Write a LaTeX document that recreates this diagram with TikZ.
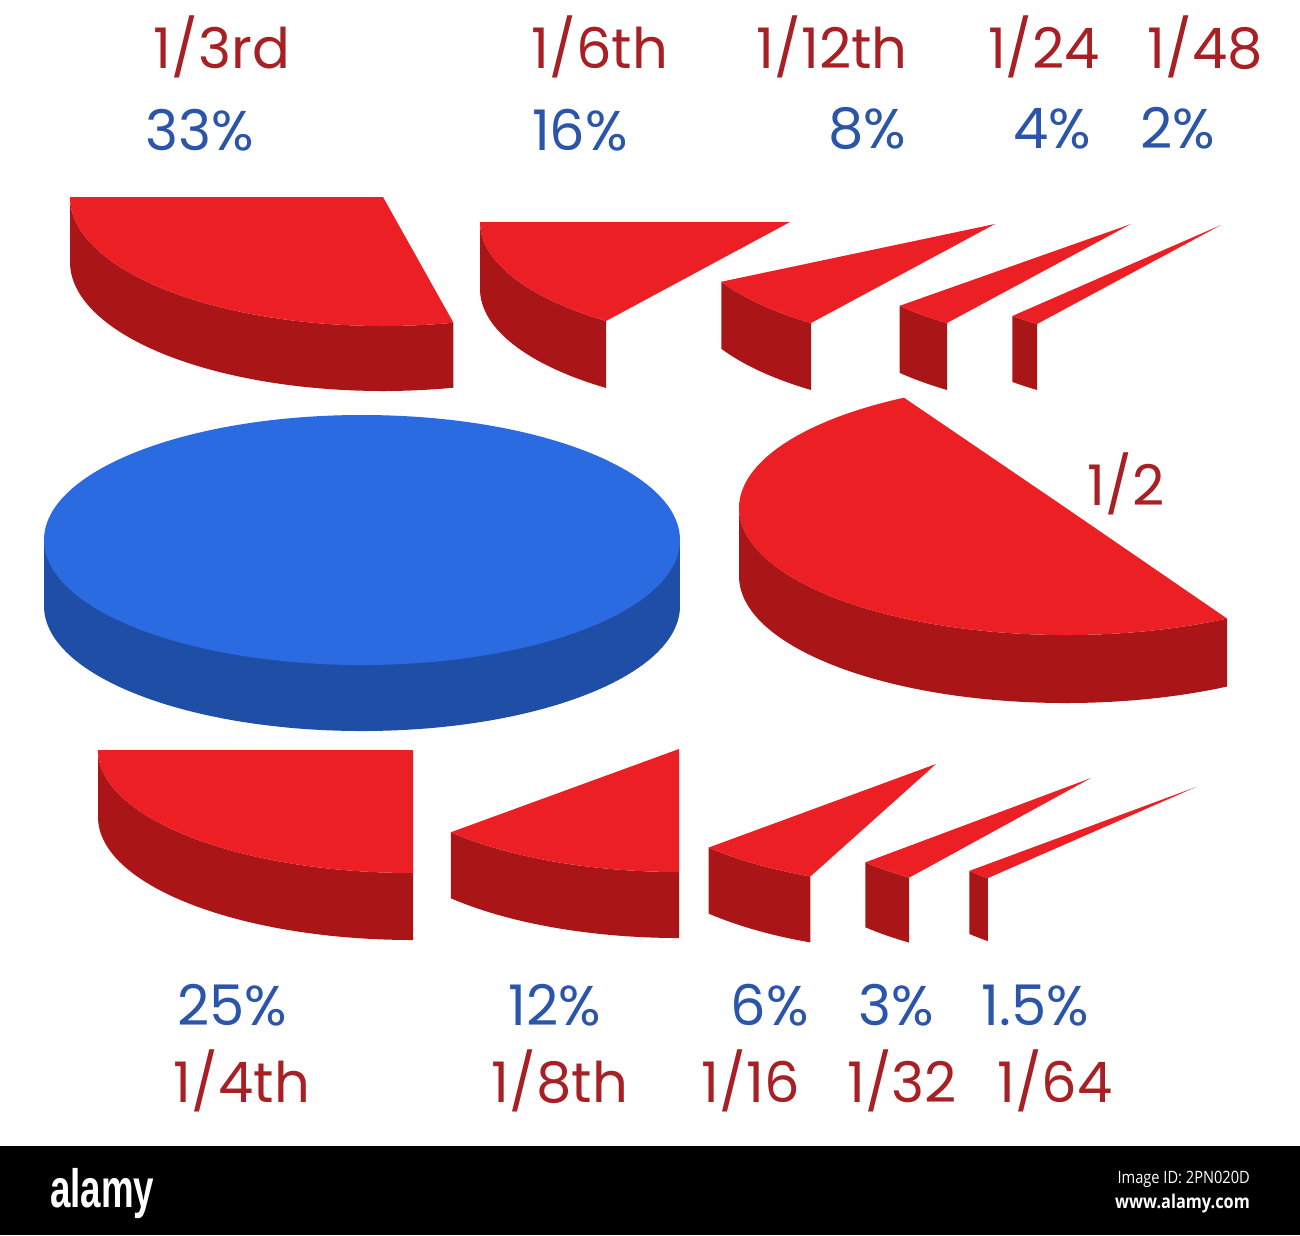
\documentclass[tikz,border=0pt]{standalone}
\usepackage{fontspec}
\setmainfont{Poppins}
\newfontfamily\bannerfont{Liberation Sans}
\newfontfamily\idfont{Open Sans}
\definecolor{redtop}{RGB}{236,31,36}
\definecolor{redside}{RGB}{170,22,24}
\definecolor{bluetop}{RGB}{42,107,226}
\definecolor{blueside}{RGB}{31,78,166}
\definecolor{redtxt}{RGB}{168,32,36}
\definecolor{bluetxt}{RGB}{42,85,168}
% cx, cy, a, b, top start, top end, side start, side end, thickness
\newcommand{\piewedge}[9]{%
  \fill[redside] (#1,#2) ++(#7:#3 and #4) arc[start angle=#7,end angle=#8,x radius=#3,y radius=#4]
    -- ++(0,#9) arc[start angle=#8,end angle=#7,x radius=#3,y radius=#4] -- cycle;
  \fill[redtop] (#1,#2) -- ++(#5:#3 and #4) arc[start angle=#5,end angle=#6,x radius=#3,y radius=#4] -- cycle;
}
\tikzset{
  lbl/.style={anchor=base,inner sep=0pt,font=\fontsize{56}{60}\selectfont},
  redlbl/.style={lbl,text=redtxt},
  bluelbl/.style={lbl,text=bluetxt}
}
\begin{document}
\begin{tikzpicture}[x=1pt,y=-1pt]
\useasboundingbox (0,0) rectangle (1300,1235);
\fill[white] (0,0) rectangle (1300,1235);

% top row wedges
\piewedge{383}{197}{313}{129}{77}{180}{77}{180}{65}
\piewedge{790}{222}{310}{123}{126.4}{180}{126.4}{180}{67}
\piewedge{995}{224}{310}{123}{126.4}{152}{126.4}{152}{67}
\piewedge{1131}{224}{310}{123}{126.4}{138.3}{126.4}{138.3}{67}
\piewedge{1221}{225}{310}{123}{126.4}{132.3}{126.4}{132.3}{66}

% blue full disk
\fill[blueside] (44,540) rectangle (680,606);
\fill[blueside] (362,606) ellipse[x radius=318,y radius=125];
\fill[bluetop] (362,540) ellipse[x radius=318,y radius=125];

% half
\piewedge{1066}{508}{327}{127}{60.5}{240.3}{60.5}{180}{68}

% bottom row wedges
\piewedge{413}{750}{315}{123}{90}{180}{90}{180}{67}
\piewedge{679}{749}{310}{123}{90}{137.4}{90}{137.4}{66}
\piewedge{936}{764}{310}{123}{113.9}{137.2}{113.9}{137.2}{66}
\piewedge{1091}{778}{310}{123}{125.9}{136.7}{125.9}{136.7}{65}
\piewedge{1196}{787}{310}{123}{132.2}{137}{132.2}{137}{63}

% labels top
\node[redlbl] (f3) at (222,68) {1/3rd};
\node[bluelbl] (p33) at (200,150) {33\%};
\node[redlbl] (f6) at (600,68) {1/6th};
\node[bluelbl] (p16) at (580,150) {16\%};
\node[redlbl] (f12) at (832,68) {1/12th};
\node[bluelbl] (p8) at (867,148) {8\%};
\node[redlbl] (f24) at (1044,68) {1/24};
\node[bluelbl] (p4) at (1052,148) {4\%};
\node[redlbl] (f48) at (1205,68) {1/48};
\node[bluelbl] (p2) at (1178,148) {2\%};
\node[redlbl] (f2) at (1126,505) {1/2};

% labels bottom
\node[bluelbl] (p25) at (232,1025) {25\%};
\node[redlbl] (f4) at (242,1102) {1/4th};
\node[bluelbl] (p12) at (555,1025) {12\%};
\node[redlbl] (f8) at (560,1102) {1/8th};
\node[bluelbl] (p6) at (770,1025) {6\%};
\node[redlbl] (f16) at (751,1102) {1/16};
\node[bluelbl] (p3) at (896,1025) {3\%};
\node[redlbl] (f32) at (902,1102) {1/32};
\node[bluelbl] (p15) at (1035,1025) {1.5\%};
\node[redlbl] (f64) at (1055,1102) {1/64};

% banner
\fill[black] (0,1146) rectangle (1300,1235);
\node[anchor=base west,inner sep=0pt,text=white,font=\bannerfont\bfseries\fontsize{54}{54}\selectfont] (logo) at (50,1207) {\scalebox{0.68}[1]{alamy}};
\node[anchor=base east,inner sep=0pt,text=white,font=\idfont\fontsize{17}{17}\selectfont] (imgid) at (1250,1183) {\scalebox{0.86}[1]{Image ID: 2PN020D}};
\node[anchor=base east,inner sep=0pt,text=white,font=\idfont\bfseries\fontsize{19}{19}\selectfont] (url) at (1250,1208) {\scalebox{0.86}[1]{www.alamy.com}};
\end{tikzpicture}
\end{document}
